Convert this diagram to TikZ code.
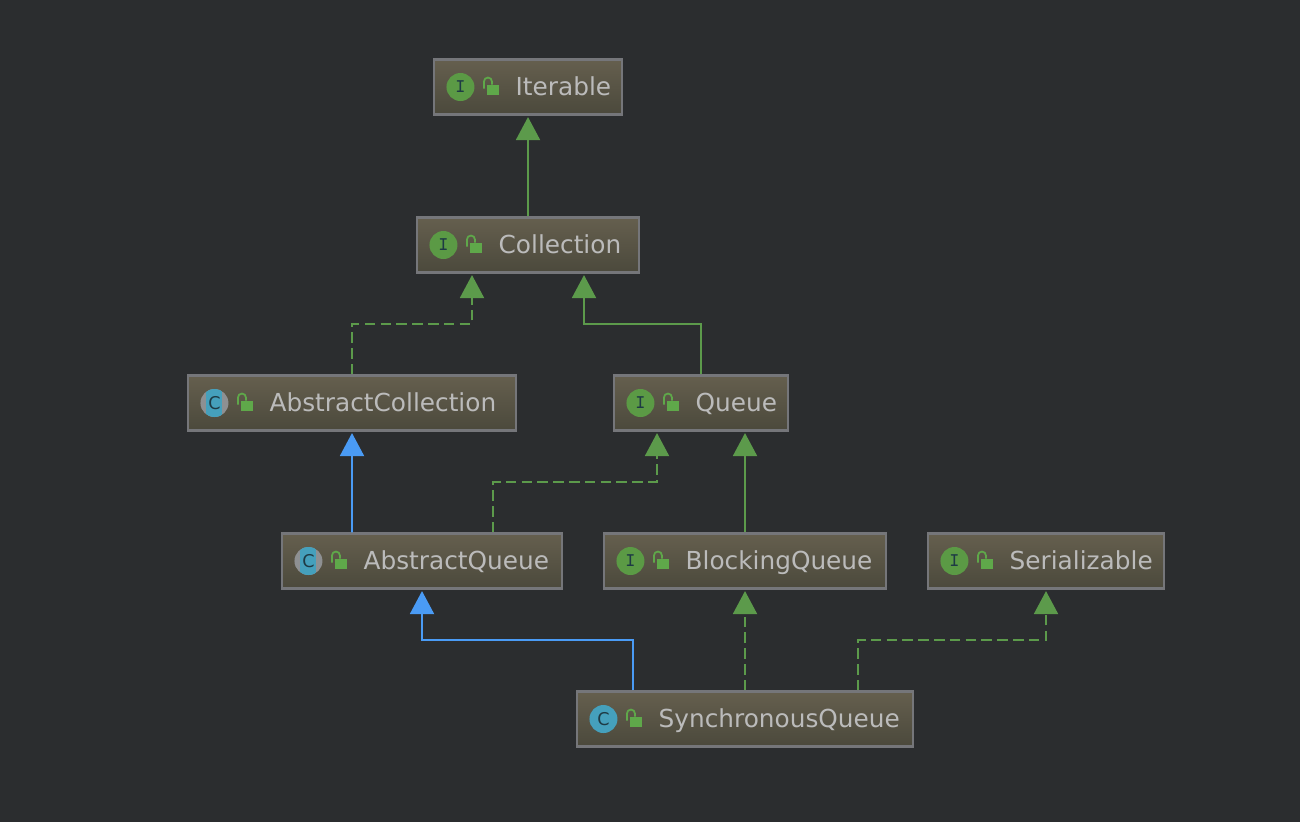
\documentclass[tikz,border=0pt]{standalone}
\usepackage{fontspec}
\setmainfont{DejaVu Sans}
\usetikzlibrary{arrows.meta}
\definecolor{bgcol}{HTML}{2B2D2F}
\definecolor{edgegreen}{HTML}{5C9A4B}
\definecolor{edgeblue}{HTML}{4A9BF5}
\definecolor{ifacegreen}{HTML}{5B9A45}
\definecolor{lockgreen}{HTML}{5FA84A}
\definecolor{classteal}{HTML}{45A0BC}
\definecolor{abstractgrey}{HTML}{8E9092}
\definecolor{icondark}{HTML}{1E3A44}
\definecolor{boxtop}{HTML}{655F4E}
\definecolor{boxbottom}{HTML}{4B493C}
\definecolor{boxline}{HTML}{75767A}
\definecolor{textgrey}{HTML}{BBBBBB}
\tikzset{
  umlbox/.style={draw=boxline,line width=.6pt,top color=boxtop,bottom color=boxbottom,minimum height=.55cm,inner sep=0pt},
  umlname/.style={anchor=west,inner sep=0pt,text=textgrey,font=\fontsize{7.05}{8}\selectfont,text height=5.2pt,text depth=1.4pt},
  iconletter/.style={inner sep=0pt,text=icondark,font=\fontsize{5}{6}\selectfont},
  realize/.style={edgegreen,line width=.55pt,dash pattern=on 3pt off 1.5pt,-{Triangle[length=.23cm,width=.24cm]},shorten >=.015cm},
  extendg/.style={edgegreen,line width=.55pt,-{Triangle[length=.23cm,width=.24cm]},shorten >=.015cm},
  extendb/.style={edgeblue,line width=.55pt,-{Triangle[length=.23cm,width=.24cm]},shorten >=.015cm},
  lockicon/.pic={
    \fill[lockgreen] (-.04,.03) rectangle (.08,-.07);
    \draw[lockgreen,line width=.5pt] (-.07,-.01) -- (-.07,.06) arc (180:0:.04) -- (.01,.03);
  },
  iconI/.pic={
    \fill[ifacegreen] (0,0) circle (.14);
    \node[iconletter,font=\fontsize{5.5}{6}\selectfont\ttfamily\bfseries] (-l) at (0,0) {I};
  },
  iconC/.pic={
    \fill[classteal] (0,0) circle (.14);
    \node[iconletter] (-l) at (0,0) {C};
  },
  iconA/.pic={
    \fill[abstractgrey] (0,0) circle (.14);
    \begin{scope}
      \clip (0,0) circle (.14);
      \fill[classteal] (-.08,-.15) rectangle (.08,.15);
    \end{scope}
    \node[iconletter] (-l) at (0,0) {C};
  },
}
\begin{document}
\begin{tikzpicture}
    \fill[bgcol] (0,0) rectangle (13,-8.22);
    \useasboundingbox (0,0) rectangle (13,-8.22);
    % setup the nodes
    \foreach \nm/\cx/\cy/\bw/\kind/\txt in {
        iterable/5.28/-.87/1.88/I/Iterable,
        collection/5.28/-2.45/2.22/I/Collection,
        abscoll/3.52/-4.03/3.28/A/AbstractCollection,
        queue/7.01/-4.03/1.74/I/Queue,
        absqueue/4.22/-5.61/2.80/A/AbstractQueue,
        blocking/7.45/-5.61/2.82/I/BlockingQueue,
        serial/10.46/-5.61/2.36/I/Serializable,
        syncq/7.45/-7.19/3.36/C/SynchronousQueue}
    {
        \node[umlbox,minimum width=\bw cm] (\nm) at (\cx,\cy) {};
        \pic (\nm-icon) at ([xshift=.275cm]\nm.west) {icon\kind};
        \pic (\nm-lock) at ([xshift=.58cm,yshift=-.005cm]\nm.west) {lockicon};
        \node[umlname] (\nm-txt) at ([xshift=.82cm,yshift=-.015cm]\nm.west) {\txt};
    }
    % connectors
    \draw[extendg] (collection.north) -- (iterable.south);
    \draw[realize] (abscoll.north) |- ++(1.2,.505) -| ([xshift=-.56cm]collection.south);
    \draw[extendg] (queue.north) |- ++(-.6,.505) -| ([xshift=.56cm]collection.south);
    \draw[extendb] ([xshift=-.70cm]absqueue.north) -- (abscoll.south);
    \draw[realize] ([xshift=.71cm]absqueue.north) |- ++(1,.505) -| ([xshift=-.44cm]queue.south);
    \draw[extendg] (blocking.north) -- ([xshift=.44cm]queue.south);
    \draw[extendb] ([xshift=-1.12cm]syncq.north) |- ++(-1,.505) -| (absqueue.south);
    \draw[realize] (syncq.north) -- (blocking.south);
    \draw[realize] ([xshift=1.13cm]syncq.north) |- ++(1,.505) -| (serial.south);
\end{tikzpicture}
\end{document}
